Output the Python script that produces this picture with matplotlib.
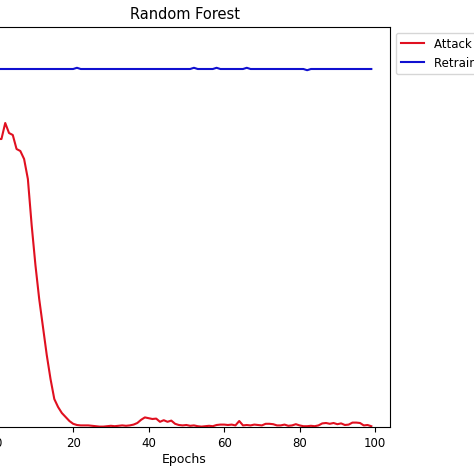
import numpy as np
import matplotlib
matplotlib.use("Agg")
import matplotlib.pyplot as plt

epochs = np.arange(100)

attack = [0.72, 0.72, 0.76, 0.735, 0.73, 0.695, 0.69, 0.67, 0.62, 0.505,
          0.405, 0.32, 0.25, 0.18, 0.12, 0.07, 0.05, 0.035, 0.025, 0.015,
          0.008, 0.005, 0.004, 0.004, 0.004, 0.003, 0.002, 0.001, 0.001, 0.002,
          0.003, 0.002, 0.003, 0.004, 0.003, 0.004, 0.006, 0.01, 0.018, 0.024,
          0.022, 0.02, 0.021, 0.013, 0.017, 0.013, 0.016, 0.008, 0.005, 0.004,
          0.005, 0.003, 0.004, 0.002, 0.001, 0.002, 0.003, 0.002, 0.005, 0.006,
          0.006, 0.005, 0.006, 0.004, 0.015, 0.004, 0.005, 0.004, 0.006, 0.005,
          0.004, 0.008, 0.008, 0.007, 0.004, 0.004, 0.006, 0.003, 0.004, 0.007,
          0.004, 0.002, 0.002, 0.003, 0.002, 0.004, 0.009, 0.01, 0.008, 0.01,
          0.007, 0.009, 0.005, 0.006, 0.011, 0.011, 0.01, 0.004, 0.005, 0.002]

retrain = [0.895] * 100
retrain[21] = 0.898
retrain[52] = 0.898
retrain[58] = 0.898
retrain[66] = 0.898
retrain[82] = 0.892

fig = plt.figure(figsize=(4.74, 4.74), dpi=100)
ax = fig.add_axes([-21 / 474, 47 / 474, 411 / 474, 400 / 474])

ax.plot(epochs, attack, color="#e01020", label="Attack accuracy")
ax.plot(epochs, retrain, color="#1010d0", label="Retrained model accuracy")
ax.set_ylim(0, 1.0)
ax.set_xticks([0, 20, 40, 60, 80, 100])
ax.tick_params(labelsize=8.5)
ax.set_xlabel("Epochs", fontsize=9, labelpad=2)
ax.set_title("Random Forest", fontsize=10.5)
ax.legend(loc="upper left", bbox_to_anchor=(1.0, 1.0), fontsize=8.5)

fig.savefig("out.png", dpi=100)
